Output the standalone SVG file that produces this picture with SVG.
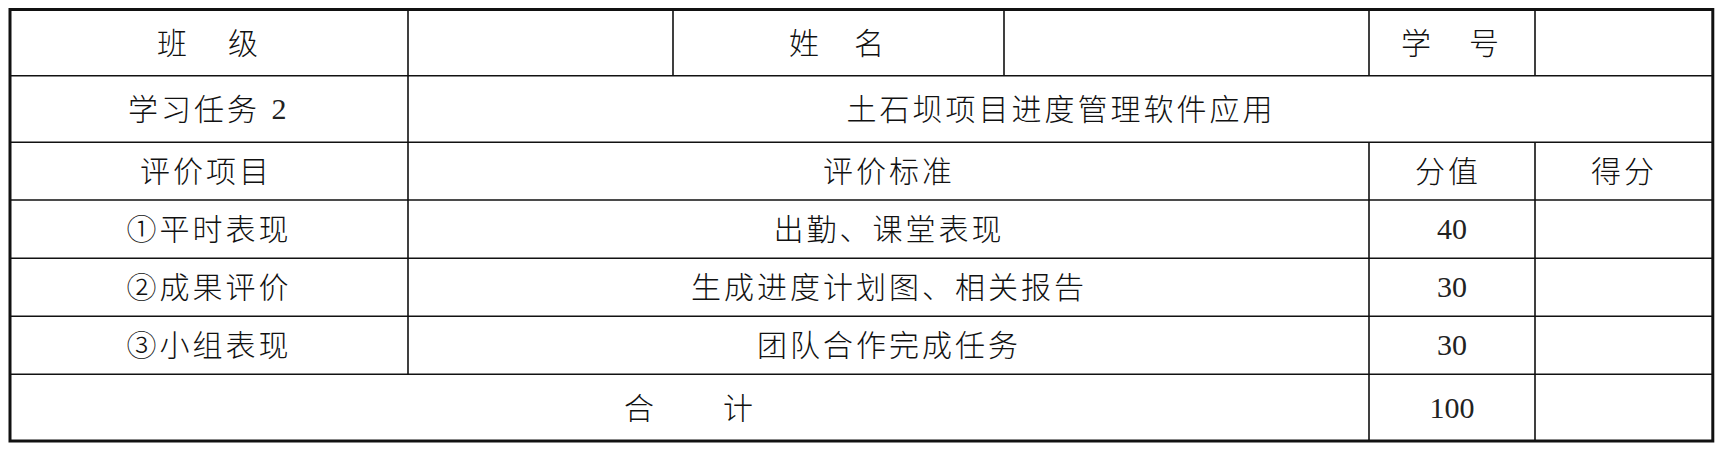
<svg xmlns="http://www.w3.org/2000/svg" width="1723" height="451" viewBox="0 0 1723 451">
<style>
.t{font-family:"Noto Sans CJK SC","Noto Sans CJK JP",sans-serif;font-size:30px;font-weight:300;fill:#111;}
.m{text-anchor:middle;letter-spacing:3px;}
.n{font-family:"Liberation Serif","Times New Roman",serif;font-size:30px;fill:#222;text-anchor:middle;}
.g{stroke:#111;stroke-width:1.6;fill:none;}
.o{stroke:#111;stroke-width:3;fill:none;}
</style>
<rect width="1723" height="451" fill="#fff"/>
<g id="grid">
<path class="g" d="M10,75.7H1713M10,142.3H1713M10,200H1713M10,258.3H1713M10,316.3H1713M10,374.3H1713"/>
<path class="g" d="M408,9.5V374.3M673,9.5V75.7M1004,9.5V75.7M1369,9.5V75.7M1535,9.5V75.7M1369,142.3V441M1535,142.3V441"/>
<rect class="o" x="10" y="9.5" width="1702.8" height="431.5"/>
</g>
<g id="row1">
<text class="t" x="157 192 228" y="54">班　级</text>
<text class="t" x="789 822 854" y="54">姓　名</text>
<text class="t" x="1401 1435 1469" y="54">学　号</text>
</g>
<g id="row2">
<text class="t" y="120"><tspan x="128">学</tspan><tspan x="161">习</tspan><tspan x="194">任</tspan><tspan x="227">务</tspan></text>
<text class="n" x="279" y="119">2</text>
<text class="t m" x="1061" y="120">土石坝项目进度管理软件应用</text>
</g>
<g id="row3">
<text class="t m" x="206" y="182">评价项目</text>
<text class="t m" x="889" y="182">评价标准</text>
<text class="t" x="1415 1448" y="182">分值</text>
<text class="t" x="1591 1624" y="182">得分</text>
</g>
<g id="row4">
<text class="t m" x="209" y="240">①平时表现</text>
<text class="t m" x="889" y="240">出勤、课堂表现</text>
<text class="n" x="1452" y="239">40</text>
</g>
<g id="row5">
<text class="t m" x="209" y="298">②成果评价</text>
<text class="t m" x="889" y="298">生成进度计划图、相关报告</text>
<text class="n" x="1452" y="297">30</text>
</g>
<g id="row6">
<text class="t m" x="209" y="356">③小组表现</text>
<text class="t m" x="889" y="356">团队合作完成任务</text>
<text class="n" x="1452" y="355">30</text>
</g>
<g id="row7">
<text class="t" x="624 674 723" y="419">合　计</text>
<text class="n" x="1452" y="418">100</text>
</g>
</svg>
